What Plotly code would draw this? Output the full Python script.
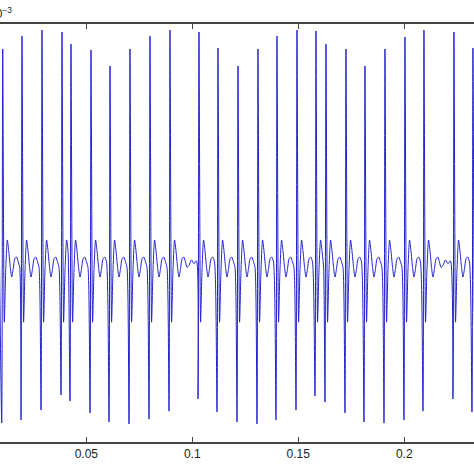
import plotly.graph_objects as go

# Pulse times (s) of the upward spike
pulse_t = [0.01057, 0.01967, 0.02910, 0.03854, 0.04278, 0.05222, 0.06118, 0.07061,
           0.08005, 0.08948, 0.10316, 0.11212, 0.12156, 0.13099, 0.13995, 0.14939,
           0.15835, 0.16307, 0.17250, 0.18146, 0.19090, 0.20033, 0.20929, 0.22344,
           0.23240]
# Upward spike peaks (x1e-3)
pulse_top = [2.231, 2.371, 2.435, 2.414, 2.285, 2.220, 2.048, 2.231,
             2.371, 2.435, 2.414, 2.242, 2.048, 2.231, 2.371, 2.435,
             2.425, 2.285, 2.231, 2.048, 2.231, 2.360, 2.435, 2.414,
             2.242]
# Downward spike minima (x1e-3)
pulse_bot = [-1.796, -1.763, -1.656, -1.494, -1.559, -1.688, -1.785, -1.806,
             -1.753, -1.667, -1.537, -1.677, -1.785, -1.806, -1.763, -1.656,
             -1.505, -1.570, -1.688, -1.785, -1.796, -1.763, -1.667, -1.537,
             -1.677]
# Ringing after each pulse: time offset (s) from upward spike and value (x1e-3)
ring_dt = [0.00075, 0.00142, 0.00217, 0.00283, 0.00358, 0.00425, 0.00500,
           0.00566, 0.00646, 0.00731, 0.00802, 0.00896, 0.01014, 0.01132, 0.01250]
ring_v = [-0.71, -0.15, 0.175, 0.06, -0.12, -0.224, -0.13,
          -0.03, -0.008, -0.06, -0.12, -0.10, -0.04, -0.08, -0.05]
down_lead = 0.00047   # downward spike precedes upward spike
x_ticks = [0.05, 0.1, 0.15, 0.2]
x_tick_text = ["0.05", "0.1", "0.15", "0.2"]
x_range = [0.00929, 0.2329]
y_range = [-2.0, 2.5]

xs, ys = [pulse_t[0] - 0.0015], [-0.1]
n = len(pulse_t)
for i in range(n):
    t = pulse_t[i]
    xs += [t - down_lead, t]
    ys += [pulse_bot[i], pulse_top[i]]
    gap = (pulse_t[i + 1] - t) if i + 1 < n else 1.0
    for dt, v in zip(ring_dt, ring_v):
        if dt < gap - 0.00095:
            xs.append(t + dt)
            ys.append(v)

fig = go.Figure(go.Scatter(x=xs, y=ys, mode="lines",
                           line=dict(color="rgb(35,35,205)", width=1,
                                     shape="spline", smoothing=0.7),
                           hoverinfo="skip"))

fig.update_layout(
    width=474, height=474,
    margin=dict(l=0, r=0, t=24, b=32, autoexpand=False),
    paper_bgcolor="white", plot_bgcolor="white",
    showlegend=False,
    font=dict(family="Liberation Sans, Arial, sans-serif", size=12, color="#222"),
    xaxis=dict(range=x_range, tickvals=x_ticks, ticktext=x_tick_text,
               showline=True, mirror="ticks", linecolor="#444", linewidth=1.5,
               ticks="inside", ticklen=5, tickcolor="#444", showgrid=False,
               zeroline=False, tickfont=dict(size=12, color="#222"),
               automargin=False),
    yaxis=dict(range=y_range, showline=False, showticklabels=False, ticks="",
               showgrid=False, zeroline=False, automargin=False),
    annotations=[dict(text="×10<sup>−3</sup>", xref="paper", yref="paper",
                      x=14 / 474, y=1 + 11 / 418, xanchor="right", yanchor="middle",
                      showarrow=False, font=dict(size=12, color="#222"))],
)

fig.write_html("out.html", config={"displayModeBar": False},
               post_script="document.body.style.margin='0';document.body.style.overflow='hidden';")
